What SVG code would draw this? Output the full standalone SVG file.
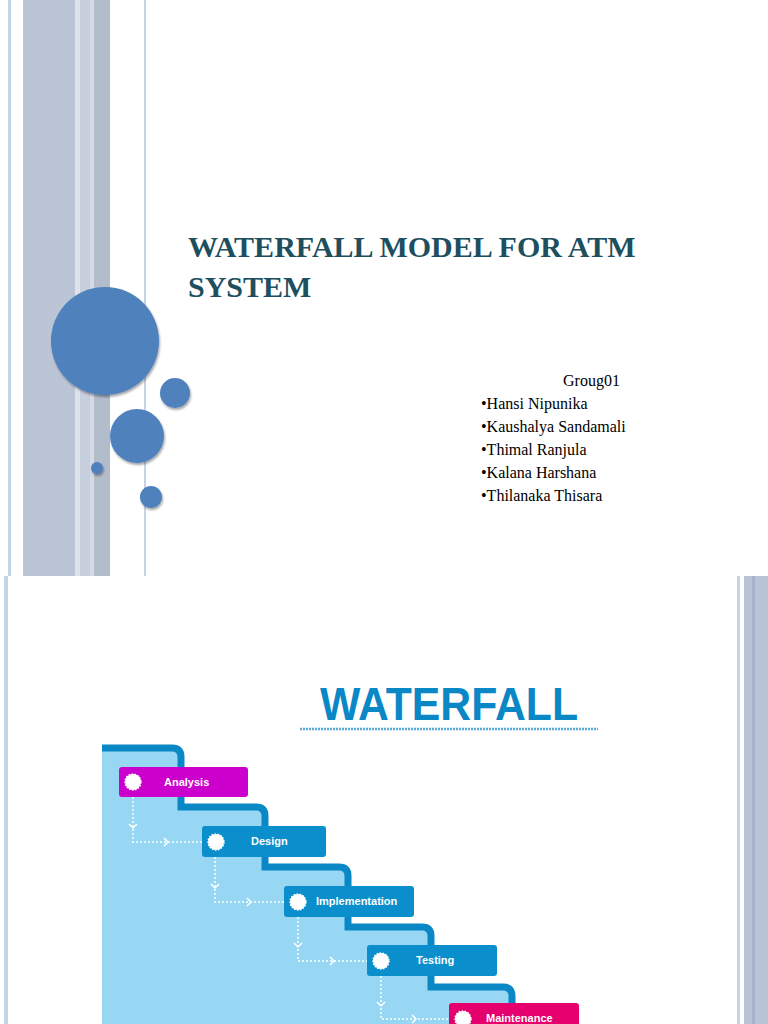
<svg xmlns="http://www.w3.org/2000/svg" width="768" height="1024" viewBox="0 0 768 1024">
<defs>
<style>
.t{font-family:"Liberation Serif",serif;font-weight:bold;font-size:30px;fill:#1d4f5e}
.n{font-family:"Liberation Serif",serif;font-size:16px;fill:#000}
.bl{font-family:"Liberation Sans",Arial,sans-serif;font-weight:bold;font-size:11px;fill:#fff}
.c{fill:#4f81bd}
.box{stroke:none}
.dash{fill:none;stroke:#fff;stroke-width:1.5;stroke-dasharray:2 2}
.ico{fill:#fff;stroke:#fff;stroke-width:1.5;stroke-dasharray:1.5 1.5}
</style>
<filter id="sh" x="-20%" y="-20%" width="140%" height="140%"><feDropShadow dx="1" dy="2" stdDeviation="1.2" flood-color="#000" flood-opacity="0.35"/></filter>
</defs>
<rect width="768" height="1024" fill="#fff"/>
<!-- top slide stripes -->
<g id="stripes-top">
<rect x="8" y="0" width="3" height="576" fill="#c5d3e8"/>
<rect x="23" y="0" width="52" height="576" fill="#bcc5d5"/>
<rect x="75" y="0" width="5" height="576" fill="#dfe4ec"/>
<rect x="80" y="0" width="10" height="576" fill="#c8cfdc"/>
<rect x="90" y="0" width="4" height="576" fill="#d5dbe5"/>
<rect x="94" y="0" width="16" height="576" fill="#b3bccb"/>
<rect x="144" y="0" width="2" height="576" fill="#c5d3e8"/>
</g>
<g id="circles" filter="url(#sh)">
<circle class="c" cx="105" cy="341" r="54"/>
<circle class="c" cx="175" cy="393" r="15"/>
<circle class="c" cx="137" cy="436" r="27"/>
<circle class="c" cx="97" cy="468" r="6"/>
<circle class="c" cx="151" cy="497" r="11"/>
</g>
<g id="title">
<text class="t" x="188" y="257">WATERFALL MODEL FOR ATM</text>
<text class="t" x="188" y="297">SYSTEM</text>
</g>
<g id="members">
<text class="n" x="563" y="386">Groug01</text>
<text class="n" x="481" y="409">•Hansi Nipunika</text>
<text class="n" x="481" y="432">•Kaushalya Sandamali</text>
<text class="n" x="481" y="455">•Thimal Ranjula</text>
<text class="n" x="481" y="478">•Kalana Harshana</text>
<text class="n" x="481" y="501">•Thilanaka Thisara</text>
</g>
<!-- bottom slide -->
<g id="stripes-bottom">
<rect x="0" y="576" width="768" height="448" fill="#fff"/>
<rect x="4" y="576" width="4" height="448" fill="#c5d3e8"/>
<rect x="737" y="576" width="3" height="448" fill="#c5d3e8"/>
<rect x="744" y="576" width="24" height="448" fill="#b8c3d6"/>
<rect x="752" y="576" width="3" height="448" fill="#a6b3cb"/>
</g>
<g id="wf-title">
<text x="320" y="720" font-family="'Liberation Sans Narrow','Liberation Sans',sans-serif" font-weight="bold" font-size="46" fill="#0a88c6" textLength="258" lengthAdjust="spacingAndGlyphs">WATERFALL</text>
<line x1="300" y1="729" x2="598" y2="729" stroke="#5aa9d8" stroke-width="2.5" stroke-dasharray="2 1"/>
</g>
<g id="stairs">
<path d="M102 748 H172 Q181 748 181 757 V807 H256 Q265 807 265 816 V867 H339 Q348 867 348 876 V927 H422 Q431 927 431 936 V987 H503 Q512 987 512 996 V1024 H102 Z" fill="#97d7f4"/>
<path d="M102 748 H172 Q181 748 181 757 V807 H256 Q265 807 265 816 V867 H339 Q348 867 348 876 V927 H422 Q431 927 431 936 V987 H503 Q512 987 512 996 V1024" fill="none" stroke="#0a88c6" stroke-width="7"/>
</g>
<g id="connectors">
<path class="dash" d="M133 797 V842 H203"/><path d="M164 838 l4 4 l-4 4" fill="none" stroke="#fff" stroke-width="1.5"/><path d="M129 824 l4 4 l4 -4" fill="none" stroke="#fff" stroke-width="1.5"/>
<path class="dash" d="M215 857 V902 H285"/><path d="M247 898 l4 4 l-4 4" fill="none" stroke="#fff" stroke-width="1.5"/><path d="M211 884 l4 4 l4 -4" fill="none" stroke="#fff" stroke-width="1.5"/>
<path class="dash" d="M298 917 V961 H368"/><path d="M330 957 l4 4 l-4 4" fill="none" stroke="#fff" stroke-width="1.5"/><path d="M294 943 l4 4 l4 -4" fill="none" stroke="#fff" stroke-width="1.5"/>
<path class="dash" d="M381 976 V1019 H450"/><path d="M412 1015 l4 4 l-4 4" fill="none" stroke="#fff" stroke-width="1.5"/><path d="M377 1002 l4 4 l4 -4" fill="none" stroke="#fff" stroke-width="1.5"/>
</g>
<g id="analysis"><rect x="119" y="767" width="129" height="30" rx="3" fill="#cc00cc"/><circle class="ico" cx="133" cy="782" r="8"/><text class="bl" x="164" y="786">Analysis</text></g>
<g id="design"><rect x="202" y="826" width="124" height="31" rx="3" fill="#0a8fcc"/><circle class="ico" cx="216" cy="842" r="8"/><text class="bl" x="251" y="845">Design</text></g>
<g id="implementation"><rect x="284" y="886" width="130" height="31" rx="3" fill="#0a8fcc"/><circle class="ico" cx="298" cy="902" r="8"/><text class="bl" x="316" y="905">Implementation</text></g>
<g id="testing"><rect x="367" y="945" width="130" height="31" rx="3" fill="#0a8fcc"/><circle class="ico" cx="381" cy="961" r="8"/><text class="bl" x="416" y="964">Testing</text></g>
<g id="maintenance"><rect x="449" y="1003" width="130" height="31" rx="3" fill="#e6006e"/><circle class="ico" cx="463" cy="1019" r="8"/><text class="bl" x="486" y="1022">Maintenance</text></g>
</svg>
